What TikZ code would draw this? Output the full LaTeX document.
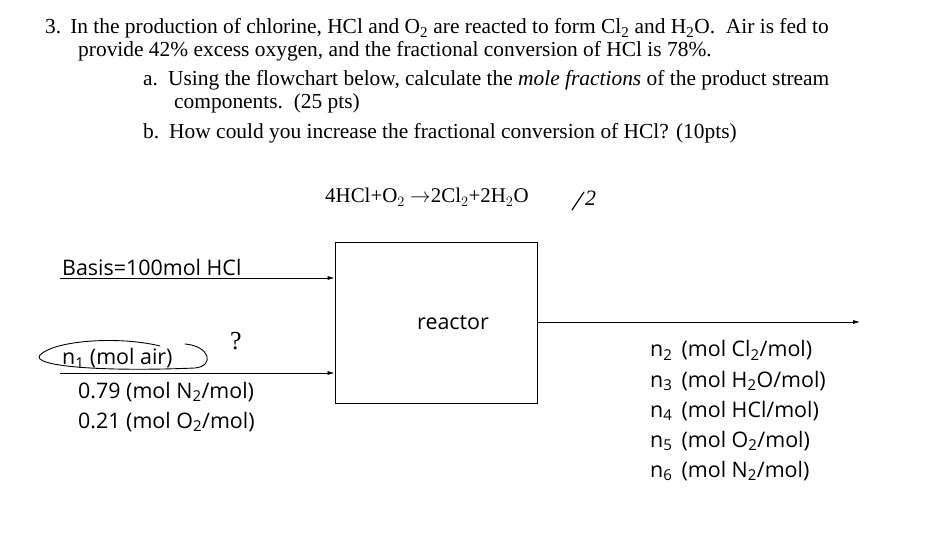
\documentclass[tikz,border=0pt]{standalone}
\usepackage{fontspec}
\setmainfont{Liberation Serif}
\newfontfamily\sans{Open Sans}
\usetikzlibrary{arrows.meta}
\newcommand{\sbs}[1]{\textsubscript{#1}}
\begin{document}
\begin{tikzpicture}[x=1bp,y=-1bp,
  txt/.style={anchor=base west,inner sep=0pt,font=\fontsize{21.5}{24}\selectfont},
  lab/.style={anchor=base west,inner sep=0pt,font=\sans\fontsize{21.5}{24}\selectfont},
  flow/.style={draw,-{Latex[length=7pt,width=4pt]},line width=0.7pt},
  hand/.style={line width=1.2pt,line cap=round}]
\useasboundingbox[fill=white] (0,0) rectangle (948,542);
\node[txt] (l1) at (45,34) {3.\hspace{9bp}In the production of chlorine, HCl and O\sbs{2} are reacted to form Cl\sbs{2} and H\sbs{2}O.\ \ Air is fed to};
\node[txt] (l2) at (78,57) {provide 42\% excess oxygen, and the fractional conversion of HCl is 78\%.};
\node[txt] (l3) at (143,86) {a.\hspace{10bp}Using the flowchart below, calculate the \textit{mole fractions} of the product stream};
\node[txt] (l4) at (174,109) {components.\ \ (25 pts)};
\node[txt] (l5) at (143,139) {b.\hspace{10bp}How could you increase the fractional conversion of HCl? (10pts)};
\node[txt,font=\fontsize{21}{24}\selectfont] (eq) at (325,203) {4HCl+O$_2$ $\rightarrow$2Cl$_2$+2H$_2$O};
\draw[hand] (572,210) -- (584,192);
\node[anchor=base west,inner sep=0pt,font=\itshape\fontsize{22}{24}\selectfont] (half) at (585,206) {2};
\node[draw,line width=0.8pt,minimum width=202bp,minimum height=161bp,inner sep=0pt] (r) at (436,322.5) {};
\node[lab] (rt) at (417,330) {reactor};
\node[lab] (basis) at (62,276) {Basis=100mol HCl};
\coordinate (in1) at (60,278);
\coordinate (in2) at (60,373);
\draw[flow] (in1) -- (in1 -| r.west);
\draw[flow] (in2) -- (in2 -| r.west);
\coordinate (out) at (860,322);
\draw[flow] (r.east |- out) -- (out);
\node[lab] (n1) at (62,365) {n\sbs{1} (mol air)};
\draw[hand,line width=0.9pt] (160,346) .. controls (120,336) and (55,340) .. (40,355) .. controls (30,366) and (100,372) .. (195,368) .. controls (215,366) and (210,346) .. (185,344);
\node[anchor=base west,inner sep=0pt,font=\fontsize{26}{26}\selectfont] (q) at (230,350) {?};
\node[lab] (a1) at (78,398) {0.79 (mol N\sbs{2}/mol)};
\node[lab] (a2) at (78,428) {0.21 (mol O\sbs{2}/mol)};
\node[lab] (b1) at (650,357) {n\sbs{2}\, (mol Cl\sbs{2}/mol)};
\node[lab] (b2) at (650,387) {n\sbs{3}\, (mol H\sbs{2}O/mol)};
\node[lab] (b3) at (650,417) {n\sbs{4}\, (mol HCl/mol)};
\node[lab] (b4) at (650,447) {n\sbs{5}\, (mol O\sbs{2}/mol)};
\node[lab] (b5) at (650,477) {n\sbs{6}\, (mol N\sbs{2}/mol)};
\end{tikzpicture}
\end{document}
